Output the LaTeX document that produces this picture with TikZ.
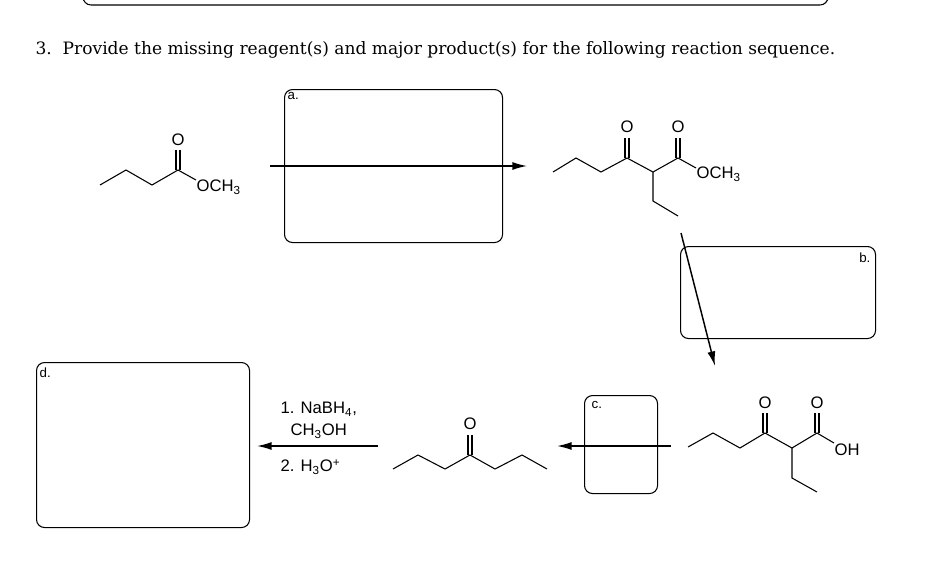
\documentclass[tikz,border=0pt]{standalone}
\usetikzlibrary{arrows.meta}
\usepackage{fontspec}
\setmainfont{Liberation Sans}
\newfontfamily\titlefont{DejaVu Serif}
\newcommand{\sbs}[1]{\textsubscript{#1}}
\newcommand{\sps}[1]{\textsuperscript{#1}}
\begin{document}
\begin{tikzpicture}[x=0.75pt,y=-0.75pt,line width=0.9pt,
  bx/.style={draw,rounded corners=6pt,line width=0.8pt},
  lbl/.style={font=\fontsize{10}{12}\selectfont,inner sep=0pt},
  atom/.style={font=\fontsize{12.5}{14}\selectfont,inner sep=0pt},
  bond/.style={line width=0.8pt},
  arr/.style={line width=1.1pt,-{Latex[length=11pt,width=6pt]}}]
\useasboundingbox (0,0) rectangle (930,579);
\begin{scope}
\clip (0,0) rectangle (930,579);
\draw[bx] (83,-30) rectangle (828,5);
\end{scope}
\node[anchor=west,inner sep=0pt,font=\titlefont\fontsize{12.8}{15}\selectfont] (title) at (35,50) {3.\ \ Provide the missing reagent(s) and major product(s) for the following reaction sequence.};
% molecule 1
\draw[bond] (100,185)--(126,170)--(152,185)--(178,170)--(196,180);
\draw[bond] (176,170)--(176,150) (180,170)--(180,150);
\node[atom] (o1) at (178,140) {O};
\node[atom,anchor=west] (e1) at (196,187) {OCH\sbs{3}};
% box a
\node[bx,minimum width=163.5pt,minimum height=114.75pt,anchor=north west] (ba) at (284,89) {};
\node[lbl,anchor=north west] (la) at (287,92) {a.};
\coordinate (a1) at (270,166); \coordinate (a2) at (527,166);
\draw[arr] (a1)--(a2);
% molecule 2
\draw[bond] (553,172)--(576,158)--(601,172)--(627,158)--(653,172)--(678,158)--(696,168);
\draw[bond] (625,158)--(625,138) (629,158)--(629,138);
\draw[bond] (676,158)--(676,138) (680,158)--(680,138);
\draw[bond] (653,172)--(653,201)--(678,216);
\node[atom] (o2) at (627,127) {O};
\node[atom] (o3) at (678,127) {O};
\node[atom,anchor=west] (e2) at (696,174) {OCH\sbs{3}};
% box b
\node[bx,minimum width=146.25pt,minimum height=69pt,anchor=north west] (bb) at (680,246) {};
\node[lbl,anchor=north east] (lb) at (871,252) {b.};
\coordinate (b1) at (681,233); \coordinate (b2) at (715,366);
\draw[arr] (b1)--(b2);
% molecule 3 (acid)
\draw[bond] (688,447)--(713,433)--(740,448)--(765,433)--(792,448)--(817,433)--(834,443);
\draw[bond] (763,433)--(763,413) (767,433)--(767,413);
\draw[bond] (815,433)--(815,413) (819,433)--(819,413);
\draw[bond] (792,448)--(792,478)--(817,492);
\node[atom] (o4) at (765,403) {O};
\node[atom] (o5) at (817,403) {O};
\node[atom,anchor=west] (oh) at (834,450) {OH};
% box c
\node[bx,minimum width=54.75pt,minimum height=73.5pt,anchor=north west] (bc) at (584,395) {};
\node[lbl,anchor=north west] (lc) at (591,401) {c.};
\coordinate (c1) at (671,446); \coordinate (c2) at (557,446);
\draw[arr] (c1)--(c2);
% ketone
\draw[bond] (393,469)--(418,455)--(445,469)--(470,455)--(495,469)--(522,455)--(547,469);
\draw[bond] (468,455)--(468,435) (472,455)--(472,435);
\node[atom] (o6) at (470,424) {O};
% reagents
\coordinate (d1) at (378,446); \coordinate (d2) at (257,446);
\draw[arr] (d1)--(d2);
\node[atom,anchor=west] (r1) at (280,409) {1. NaBH\sbs{4},};
\node[atom,anchor=west] (r2) at (290,431) {CH\sbs{3}OH};
\node[atom,anchor=west] (r3) at (280,467) {2. H\sbs{3}O\sps{+}};
% box d
\node[bx,minimum width=159.75pt,minimum height=123.75pt,anchor=north west] (bd) at (36,362) {};
\node[lbl,anchor=north west] (ld) at (39,367) {d.};
\end{tikzpicture}
\end{document}
